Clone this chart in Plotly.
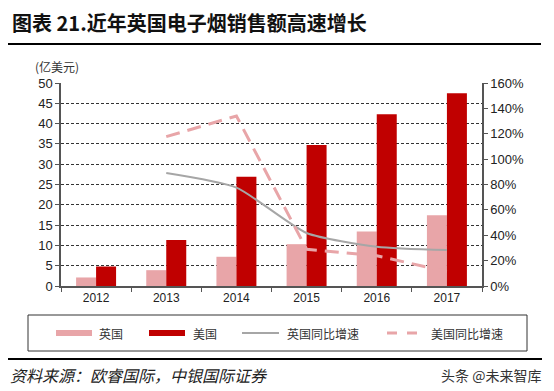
import plotly.graph_objects as go

years = ["2012", "2013", "2014", "2015", "2016", "2017"]
uk_sales = [2.1, 3.9, 7.2, 10.3, 13.4, 17.4]
us_sales = [4.8, 11.3, 26.9, 34.7, 42.3, 47.5]
uk_growth = [None, 0.89, 0.775, 0.418, 0.31, 0.283]
us_growth = [None, 1.177, 1.34, 0.29, 0.238, 0.114]

UK_C = "#E8A5A8"
US_C = "#C00000"
GRAY = "#A6A6A6"
CJK = "Noto Sans CJK SC"
LAT = "Liberation Sans, Arial"

fig = go.Figure()
fig.add_trace(go.Bar(x=years, y=uk_sales, name="英国", marker_color=UK_C, marker_line_width=0))
fig.add_trace(go.Bar(x=years, y=us_sales, name="美国", marker_color=US_C, marker_line_width=0))
fig.add_trace(go.Scatter(x=years, y=uk_growth, name="英国同比增速", yaxis="y2", mode="lines",
                         line=dict(color=GRAY, width=2, shape="spline", smoothing=0.6)))
fig.add_trace(go.Scatter(x=years, y=us_growth, name="美国同比增速", yaxis="y2", mode="lines",
                         line=dict(color=UK_C, width=3, dash="14px,8px")))

fig.update_layout(
    width=554, height=391,
    margin=dict(l=61, r=72, t=83, b=105),
    paper_bgcolor="white", plot_bgcolor="white",
    showlegend=False,
    barmode="group", bargap=0.43, bargroupgap=0,
    font=dict(family=LAT, size=12, color="#222"),
    xaxis=dict(showline=True, linecolor="#555", linewidth=1.5, ticks="outside",
               tickson="boundaries", ticklen=4, tickcolor="#555",
               tickfont=dict(family=LAT, size=12, color="#222")),
    yaxis=dict(range=[0, 50], dtick=5, showline=True, linecolor="#555", linewidth=1.5,
               ticks="outside", ticklen=4, tickcolor="#555",
               showgrid=True, gridcolor="#333", gridwidth=1, griddash="3px,2px",
               zeroline=False, tickfont=dict(family=LAT, size=13, color="#222")),
    yaxis2=dict(range=[0, 1.6], dtick=0.2, tickformat=".0%", overlaying="y", side="right",
                showline=True, linecolor="#555", linewidth=1.5, ticks="outside", ticklen=4,
                tickcolor="#555", showgrid=False, zeroline=False,
                tickfont=dict(family=LAT, size=13, color="#222")),
)

pl, pr, pt, pb = 61, 482, 83, 286
def px(x):
    return (x - pl) / (pr - pl)
def py(y):
    return (pb - y) / (pb - pt)

shapes = [
    dict(type="line", xref="paper", yref="paper", x0=px(8), x1=px(541), y0=py(44), y1=py(44),
         line=dict(color="black", width=2)),
    dict(type="rect", xref="paper", yref="paper", x0=px(28), x1=px(527), y0=py(315), y1=py(351),
         line=dict(color="#333", width=1)),
    dict(type="line", xref="paper", yref="paper", x0=px(8), x1=px(542), y0=py(359), y1=py(359),
         line=dict(color="black", width=2)),
    dict(type="rect", xref="paper", yref="paper", x0=px(56), x1=px(92), y0=py(330), y1=py(336),
         fillcolor=UK_C, line=dict(width=0)),
    dict(type="rect", xref="paper", yref="paper", x0=px(149), x1=px(185), y0=py(330), y1=py(336),
         fillcolor=US_C, line=dict(width=0)),
    dict(type="line", xref="paper", yref="paper", x0=px(242), x1=px(279), y0=py(333), y1=py(333),
         line=dict(color=GRAY, width=2)),
    dict(type="line", xref="paper", yref="paper", x0=px(387), x1=px(420), y0=py(333), y1=py(333),
         line=dict(color=UK_C, width=3, dash="10px,10px")),
]

ann = [
    dict(text="<b>图表 21.近年英国电子烟销售额高速增长</b>", x=px(10), y=py(23), xanchor="left",
         yanchor="middle", font=dict(family=CJK, size=20, color="#111")),
    dict(text="(亿美元)", x=px(33), y=py(66), xanchor="left", yanchor="middle",
         font=dict(family=CJK, size=12, color="#333")),
    dict(text="英国", x=px(97), y=py(333), xanchor="left", yanchor="middle",
         font=dict(family=CJK, size=12, color="#333")),
    dict(text="美国", x=px(191), y=py(333), xanchor="left", yanchor="middle",
         font=dict(family=CJK, size=12, color="#333")),
    dict(text="英国同比增速", x=px(285), y=py(333), xanchor="left", yanchor="middle",
         font=dict(family=CJK, size=12, color="#333")),
    dict(text="美国同比增速", x=px(429), y=py(333), xanchor="left", yanchor="middle",
         font=dict(family=CJK, size=12, color="#333")),
    dict(text="<i>资料来源：欧睿国际，中银国际证券</i>", x=px(8), y=py(375), xanchor="left",
         yanchor="middle", font=dict(family=CJK, size=16, color="#222")),
    dict(text="头条 @未来智库", x=px(543), y=py(375), xanchor="right", yanchor="middle",
         font=dict(family=CJK, size=14, color="#333")),
]
for a in ann:
    a.update(xref="paper", yref="paper", showarrow=False)

fig.update_layout(shapes=shapes, annotations=ann)
fig.write_html("out.html", config={"displayModeBar": False},
               post_script="document.body.style.margin='0';document.body.style.padding='0';")
